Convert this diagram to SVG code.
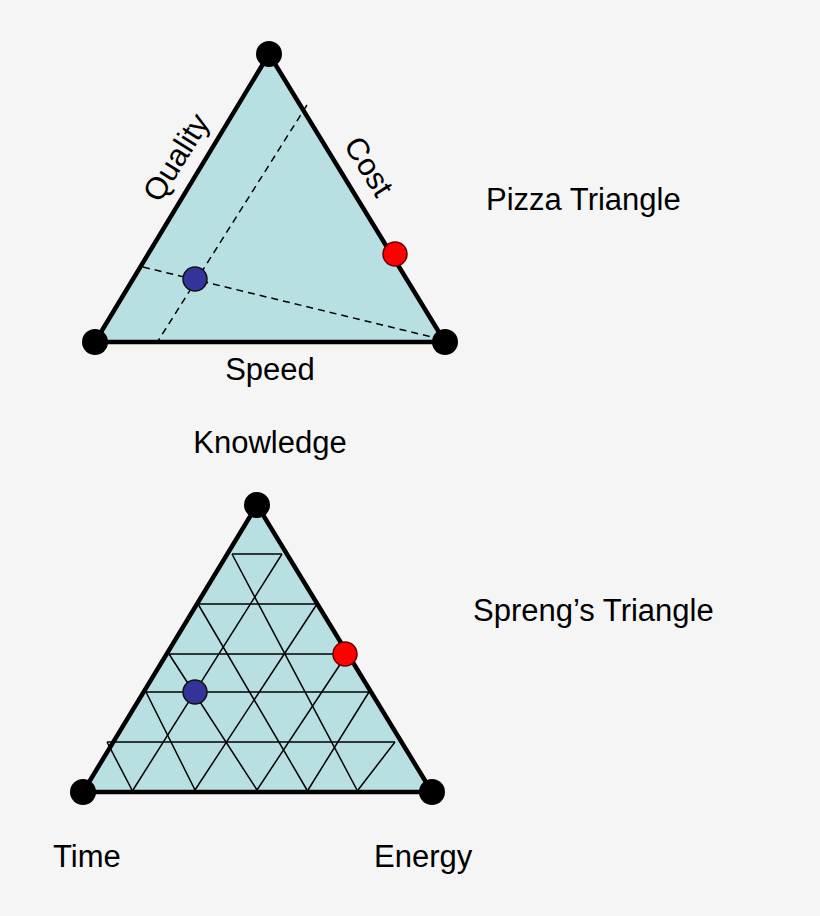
<svg xmlns="http://www.w3.org/2000/svg" width="820" height="916" viewBox="0 0 820 916">
<style>
text{font-family:"Liberation Sans",Arial,sans-serif;font-size:31px;fill:#000}
.tri{fill:#b8dfe2;stroke:#000;stroke-width:4.5;stroke-linejoin:miter}
.dash{stroke:#000;stroke-width:1.5;stroke-dasharray:7,5;fill:none}
.grid{stroke:#000;stroke-width:1.5;fill:none}
.v{fill:#000}
.red{fill:#f00;stroke:#600;stroke-width:1.5}
.blue{fill:#333399;stroke:#111;stroke-width:1.5}
</style>
<rect width="820" height="916" fill="#f5f5f5"/>
<g id="pizza">
<polygon class="tri" points="269,54 95,342 445,342"/>
<g id="connectors-pizza">
<line class="dash" x1="307" y1="105" x2="158" y2="341"/>
<line class="dash" x1="143" y1="267" x2="436" y2="338"/>
</g>
<circle class="v" cx="269" cy="54" r="13"/>
<circle class="v" cx="95" cy="342" r="13"/>
<circle class="v" cx="445" cy="342" r="13"/>
<circle class="red" cx="395" cy="254" r="12"/>
<circle class="blue" cx="195" cy="279" r="12"/>
<text transform="translate(185,163) rotate(-58)" text-anchor="middle">Quality</text>
<text transform="translate(360,172) rotate(58)" text-anchor="middle">Cost</text>
<text x="270" y="380" text-anchor="middle">Speed</text>
</g>
<text id="pizza-title" x="486" y="210">Pizza Triangle</text>
<text id="knowledge" x="270" y="453" text-anchor="middle">Knowledge</text>
<g id="spreng">
<polygon class="tri" points="257,505 83,792 432,792"/>
<g id="grid">
<line class="grid" x1="232" y1="554" x2="282" y2="554"/>
<line class="grid" x1="198" y1="604" x2="317" y2="604"/>
<line class="grid" x1="169" y1="654" x2="347" y2="654"/>
<line class="grid" x1="146" y1="692" x2="369" y2="692"/>
<line class="grid" x1="107" y1="742" x2="395" y2="742"/>
<line class="grid" x1="232" y1="554" x2="357" y2="790"/>
<line class="grid" x1="198" y1="604" x2="307" y2="790"/>
<line class="grid" x1="169" y1="654" x2="257" y2="790"/>
<line class="grid" x1="146" y1="692" x2="195" y2="790"/>
<line class="grid" x1="107" y1="742" x2="132" y2="790"/>
<line class="grid" x1="282" y1="554" x2="133" y2="790"/>
<line class="grid" x1="317" y1="604" x2="195" y2="790"/>
<line class="grid" x1="347" y1="654" x2="257" y2="790"/>
<line class="grid" x1="369" y1="692" x2="308" y2="790"/>
<line class="grid" x1="395" y1="742" x2="358" y2="790"/>
</g>
<circle class="v" cx="257" cy="505" r="13"/>
<circle class="v" cx="83" cy="792" r="13"/>
<circle class="v" cx="432" cy="792" r="13"/>
<circle class="red" cx="345" cy="654" r="12"/>
<circle class="blue" cx="195" cy="692" r="12"/>
<text x="53" y="867">Time</text>
<text x="374" y="867">Energy</text>
</g>
<text id="spreng-title" x="473" y="621">Spreng’s Triangle</text>
</svg>
